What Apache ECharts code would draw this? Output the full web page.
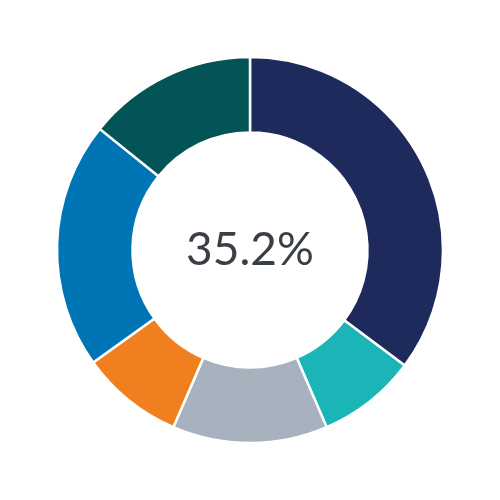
<!DOCTYPE html>
<html>
<head>
<meta charset="utf-8">
<script src="https://cdn.jsdelivr.net/npm/echarts@6/dist/echarts.min.js"></script>
<style>html,body{margin:0;padding:0;background:#fff;}#c{width:500px;height:500px;}</style>
</head>
<body>
<div id="c"></div>
<script>
const categories = ['A', 'B', 'C', 'D', 'E', 'F'];
const values = [35.2, 8.3, 13.0, 8.6, 20.7, 14.2];
const colors = ['#1d2a5b', '#1bb5b7', '#a8b2bf', '#f07f20', '#0075b5', '#025456'];
const centerLabel = '35.2%';

const chart = echarts.init(document.getElementById('c'), null, {renderer: 'canvas'});
chart.setOption({
  animation: false,
  graphic: [{
    type: 'text',
    left: 'center',
    top: 'middle',
    style: {
      text: centerLabel,
      fontFamily: 'Lato',
      fontWeight: 'normal',
      fontSize: 46,
      fill: '#3a3e45',
      textAlign: 'center',
      textVerticalAlign: 'middle'
    }
  }],
  series: [{
    type: 'pie',
    center: ['50%', '50%'],
    radius: ['47%', '77.2%'],
    startAngle: 90,
    clockwise: true,
    label: {show: false},
    labelLine: {show: false},
    silent: true,
    itemStyle: {borderColor: '#ffffff', borderWidth: 2.5},
    data: categories.map((c, i) => ({name: c, value: values[i], itemStyle: {color: colors[i]}}))
  }]
});
</script>
</body>
</html>
